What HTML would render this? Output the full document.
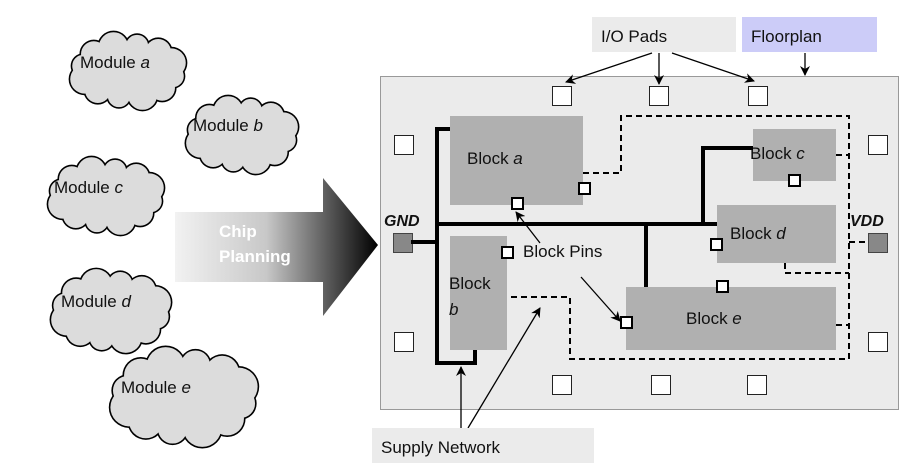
<!DOCTYPE html>
<html><head><meta charset="utf-8"><style>
body{margin:0;background:#fff;width:913px;height:471px;overflow:hidden}
svg{display:block}
text{font-family:"Liberation Sans",sans-serif;font-size:17px;fill:#111}
</style></head><body>
<svg id="s" width="913" height="471" viewBox="0 0 913 471" xmlns="http://www.w3.org/2000/svg">
<defs>
<linearGradient id="g" x1="0" x2="1" y1="0" y2="0">
<stop offset="0" stop-color="#f2f2f2"/><stop offset="0.45" stop-color="#c8c8c8"/><stop offset="1" stop-color="#000"/>
</linearGradient>
<marker id="ah" markerWidth="10" markerHeight="10" refX="9" refY="5" orient="auto" markerUnits="userSpaceOnUse">
<path d="M0,0 L10,5 L0,10 L3,5 Z" fill="#000"/></marker>
</defs>
<g id="clouds"></g>
<path d="M175,212 L323,212 L323,178 L378,245 L323,316 L323,282 L175,282 Z" fill="url(#g)"/>
<text x="219" y="237" style="fill:#fff;font-weight:bold;font-size:17px">Chip</text>
<text x="219" y="262" style="fill:#fff;font-weight:bold;font-size:17px">Planning</text>

<rect x="592" y="17" width="144" height="35" fill="#ebebeb"/>
<text x="601" y="42">I/O Pads</text>
<rect x="742" y="17" width="135" height="35" fill="#ccccf8"/>
<text x="751" y="42">Floorplan</text>

<rect x="380.5" y="76.5" width="518" height="333" fill="#ebebeb" stroke="#999" stroke-width="1"/>

<g fill="#fff" stroke="#222" stroke-width="1">
<rect x="552.5" y="86.5" width="19" height="19"/><rect x="649.5" y="86.5" width="19" height="19"/><rect x="748.5" y="86.5" width="19" height="19"/>
<rect x="394.5" y="135.5" width="19" height="19"/><rect x="394.5" y="332.5" width="19" height="19"/>
<rect x="868.5" y="135.5" width="19" height="19"/><rect x="868.5" y="332.5" width="19" height="19"/>
<rect x="552.5" y="375.5" width="19" height="19"/><rect x="651.5" y="375.5" width="19" height="19"/><rect x="747.5" y="375.5" width="19" height="19"/>
</g>
<g fill="#888" stroke="#444" stroke-width="1">
<rect x="393.5" y="233.5" width="19" height="19"/><rect x="868.5" y="233.5" width="19" height="19"/>
</g>
<text x="384" y="226" style="font-weight:bold;font-style:italic;font-size:16px">GND</text>
<text x="850" y="226" style="font-weight:bold;font-style:italic;font-size:16px">VDD</text>

<g fill="#b0b0b0">
<rect x="450" y="116" width="133" height="89"/>
<rect x="450" y="236" width="57" height="114"/>
<rect x="753" y="129" width="83" height="52"/>
<rect x="717" y="205" width="119" height="58"/>
<rect x="626" y="287" width="210" height="63"/>
</g>
<text x="467" y="164">Block <tspan font-style="italic">a</tspan></text>
<text x="449" y="289">Block</text>
<text x="449" y="315" font-style="italic">b</text>
<text x="750" y="159">Block <tspan font-style="italic">c</tspan></text>
<text x="730" y="239">Block <tspan font-style="italic">d</tspan></text>
<text x="686" y="324">Block <tspan font-style="italic">e</tspan></text>

<g fill="none" stroke="#000" stroke-width="4">
<path d="M411,242 H437"/>
<path d="M450,129 H437 V363 H475 V350"/>
<path d="M437,224 H717"/>
<path d="M646,224 V287"/>
<path d="M703,224 V148 H753"/>
</g>
<g fill="none" stroke="#000" stroke-width="2" stroke-dasharray="6,4">
<path d="M583,173 H621 V116 H849 V359 H570 V297 H507"/>
<path d="M836,155 H849"/>
<path d="M785,263 V273 H849"/>
<path d="M849,242 H868"/>
<path d="M836,325 H849"/>
</g>

<g fill="#fff" stroke="#000" stroke-width="2">
<rect x="512" y="198" width="11" height="11"/>
<rect x="579" y="183" width="11" height="11"/>
<rect x="502" y="247" width="11" height="11"/>
<rect x="789" y="175" width="11" height="11"/>
<rect x="711" y="239" width="11" height="11"/>
<rect x="717" y="281" width="11" height="11"/>
<rect x="621" y="317" width="11" height="11"/>
</g>
<text x="523" y="257">Block Pins</text>

<g stroke="#000" stroke-width="1.3" fill="none" marker-end="url(#ah)">
<path d="M652,53 L566,82"/>
<path d="M659,53 L659,84"/>
<path d="M672,53 L754,81"/>
<path d="M805,53 L805,75"/>
<path d="M540,243 L516,212"/>
<path d="M581,277 L620,321"/>
<path d="M461,428 L461,367"/>
<path d="M468,428 L540,308"/>
</g>

<rect x="372" y="428" width="222" height="35" fill="#ebebeb"/>
<text x="381" y="453">Supply Network</text>
</svg>
<script>
(function(){
var ns="http://www.w3.org/2000/svg",g=document.getElementById("clouds");
var C=[[128,71,60,40,"a",80,68],[242,135,58,40,"b",193,131],[106,196,60,40,"c",54,193],[111,311,62,43,"d",61,307],[184,397,76,51,"e",121,393]];
function circ(x,y,r,fill){var c=document.createElementNS(ns,"circle");c.setAttribute("cx",x);c.setAttribute("cy",y);c.setAttribute("r",r);c.setAttribute("fill",fill);g.appendChild(c);}
C.forEach(function(k){
 var cx=k[0],cy=k[1],rx=k[2],ry=k[3],n=12,pts=[];
 for(var i=0;i<n;i++){var a=i/n*Math.PI*2+0.2;var br=Math.min(rx,ry)*0.36;pts.push([cx+(rx-br)*Math.cos(a),cy+(ry-br)*Math.sin(a),br*(1+0.12*((i%3)-1))]);}
 pts.forEach(function(p){circ(p[0],p[1],p[2],"#000");});
 circ(cx,cy,Math.min(rx,ry)*0.8,"#000");
 pts.forEach(function(p){circ(p[0],p[1],p[2]-1.6,"#dcdcdc");});
 var e=document.createElementNS(ns,"ellipse");e.setAttribute("cx",cx);e.setAttribute("cy",cy);e.setAttribute("rx",rx*0.72);e.setAttribute("ry",ry*0.62);e.setAttribute("fill","#dcdcdc");g.appendChild(e);
 var t=document.createElementNS(ns,"text");t.setAttribute("x",k[5]);t.setAttribute("y",k[6]);t.textContent="Module ";var s=document.createElementNS(ns,"tspan");s.setAttribute("font-style","italic");s.textContent=k[4];t.appendChild(s);g.appendChild(t);
});
})();
</script>
</body></html>
